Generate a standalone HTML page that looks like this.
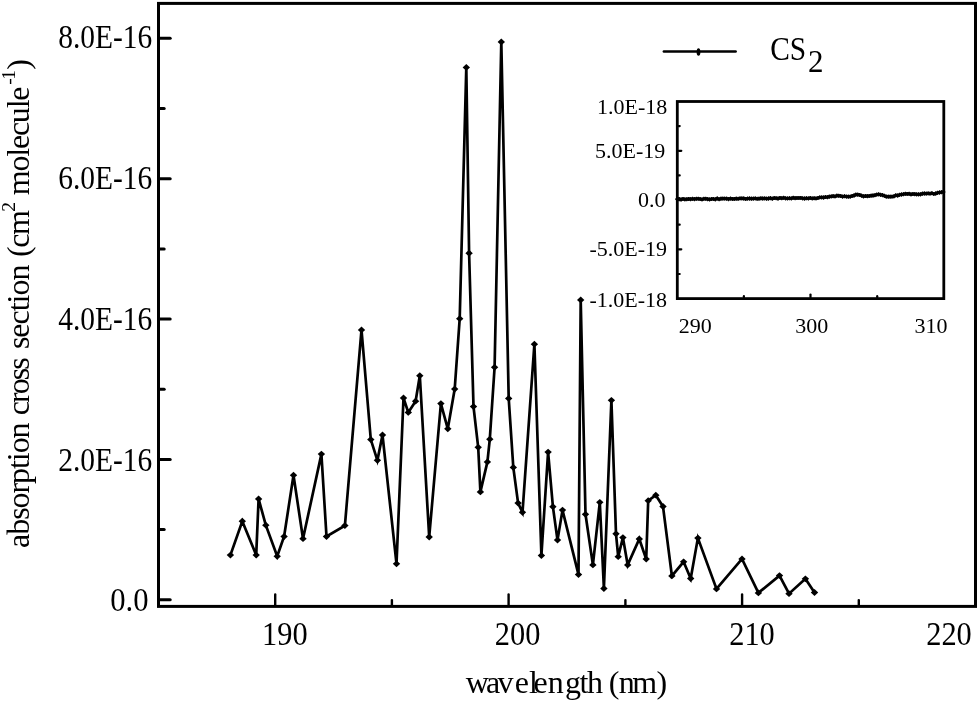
<!DOCTYPE html>
<html lang="en">
<head>
<meta charset="utf-8">
<title>CS2 absorption cross section</title>
<style>
html,body{margin:0;padding:0;background:#fff;}
body{width:979px;height:703px;overflow:hidden;}
svg{display:block;}
text{font-family:"Liberation Serif","Times New Roman",Times,serif;fill:#000;}
</style>
</head>
<body>
<svg width="979" height="703" viewBox="0 0 979 703">
<rect x="0" y="0" width="979" height="703" fill="#fff"/>
<rect x="158.5" y="3.4" width="817.0" height="603.0" fill="none" stroke="#000" stroke-width="3"/>
<g stroke="#000" stroke-width="3" stroke-linecap="round">
<line x1="160.0" y1="599.8" x2="170.2" y2="599.8"/>
<line x1="160.0" y1="529.6" x2="164.2" y2="529.6"/>
<line x1="160.0" y1="459.4" x2="170.2" y2="459.4"/>
<line x1="160.0" y1="389.2" x2="164.2" y2="389.2"/>
<line x1="160.0" y1="319.0" x2="170.2" y2="319.0"/>
<line x1="160.0" y1="248.9" x2="164.2" y2="248.9"/>
<line x1="160.0" y1="178.7" x2="170.2" y2="178.7"/>
<line x1="160.0" y1="108.5" x2="164.2" y2="108.5"/>
<line x1="160.0" y1="38.3" x2="170.2" y2="38.3"/>
</g>
<g stroke="#000" stroke-width="2.4" stroke-linecap="round">
<line x1="275.2" y1="604.9" x2="275.2" y2="594.5"/>
<line x1="391.9" y1="604.9" x2="391.9" y2="600.1"/>
<line x1="508.6" y1="604.9" x2="508.6" y2="594.5"/>
<line x1="625.4" y1="604.9" x2="625.4" y2="600.1"/>
<line x1="742.1" y1="604.9" x2="742.1" y2="594.5"/>
<line x1="858.8" y1="604.9" x2="858.8" y2="600.1"/>
</g>
<text x="58.3" y="47.9" font-size="32.7" text-anchor="start" textLength="94" lengthAdjust="spacingAndGlyphs">8.0E-16</text>
<text x="58.3" y="188.5" font-size="32.7" text-anchor="start" textLength="94" lengthAdjust="spacingAndGlyphs">6.0E-16</text>
<text x="58.3" y="329.5" font-size="32.7" text-anchor="start" textLength="94" lengthAdjust="spacingAndGlyphs">4.0E-16</text>
<text x="58.3" y="470.5" font-size="32.7" text-anchor="start" textLength="94" lengthAdjust="spacingAndGlyphs">2.0E-16</text>
<text x="110.3" y="610.9" font-size="32.7" text-anchor="start" textLength="38.3" lengthAdjust="spacingAndGlyphs">0.0</text>
<text x="262.0" y="644.5" font-size="32.7" text-anchor="start" textLength="45.6" lengthAdjust="spacingAndGlyphs">190</text>
<text x="494.8" y="644.5" font-size="32.7" text-anchor="start" textLength="45.6" lengthAdjust="spacingAndGlyphs">200</text>
<text x="729.2" y="644.5" font-size="32.7" text-anchor="start" textLength="45.6" lengthAdjust="spacingAndGlyphs">210</text>
<text x="926.2" y="644.5" font-size="32.7" text-anchor="start" textLength="45.6" lengthAdjust="spacingAndGlyphs">220</text>
<text x="465.8 486.0 497.6 514.8 529.1 533.6 547.8 565.1 579.6 586.9 602.9 608.8 618.7 632.3 656.6" y="693.4" font-size="32">wavelength (nm)</text>
<g transform="translate(29.0,0) rotate(-90)">
<text x="-547.9" y="0" font-size="32" text-anchor="start" textLength="125.5" lengthAdjust="spacing">absorption</text>
<text x="-415.2" y="0" font-size="32" text-anchor="start" textLength="57.9" lengthAdjust="spacing">cross</text>
<text x="-349.1" y="0" font-size="32" text-anchor="start" textLength="84.5" lengthAdjust="spacing">section</text>
<text x="-257.0" y="0" font-size="32" text-anchor="start" textLength="46.8" lengthAdjust="spacing">(cm</text>
<text x="-211.7" y="-13.6" font-size="19.5" text-anchor="start" textLength="10.5" lengthAdjust="spacing">2</text>
<text x="-195.2" y="0" font-size="32" text-anchor="start" textLength="108.7" lengthAdjust="spacing">molecule</text>
<text x="-84.8" y="-13.6" font-size="19.5" text-anchor="start" textLength="14.9" lengthAdjust="spacing">-1</text>
<text x="-69.8" y="0" font-size="32" text-anchor="start" textLength="10.0" lengthAdjust="spacing">)</text>
</g>
<path d="M230.4 555.1 L242.3 521.2 L256.2 555.1 L258.6 498.9 L265.8 525.2 L277.2 556.3 L284.1 536.5 L293.5 475.2 L303.0 538.7 L321.4 454.1 L326.5 536.5 L344.9 525.6 L361.5 329.9 L370.8 439.6 L377.4 460.3 L382.5 435.0 L396.5 563.8 L403.5 398.0 L408.3 412.4 L415.6 401.2 L419.8 375.7 L429.2 537.0 L440.9 403.6 L447.8 428.8 L454.7 389.1 L459.7 318.7 L466.3 67.4 L469.1 253.2 L473.5 406.6 L478.2 447.3 L480.4 491.9 L487.4 461.9 L489.8 439.2 L494.6 367.3 L501.3 41.9 L508.7 398.4 L513.3 467.4 L518.1 503.1 L522.5 512.3 L534.4 344.2 L541.4 555.5 L548.1 452.1 L552.9 506.7 L557.5 540.1 L562.5 510.1 L578.5 574.6 L580.7 299.9 L585.5 514.3 L592.9 564.9 L599.8 502.3 L603.9 588.5 L611.4 400.3 L616.0 533.8 L618.2 556.7 L622.9 537.6 L627.7 564.9 L639.3 539.0 L646.2 559.1 L648.2 500.7 L655.8 495.2 L663.0 506.5 L671.9 575.9 L683.6 561.8 L690.7 578.5 L697.9 538.1 L716.5 588.9 L742.0 558.9 L758.4 592.9 L779.5 575.6 L789.0 593.7 L805.4 578.8 L814.5 592.5" fill="none" stroke="#000" stroke-width="2.7" stroke-linejoin="miter" stroke-linecap="butt"/>
<g fill="#000">
<path d="M226.7 555.1L230.4 551.7L234.1 555.1L230.4 558.5Z"/>
<path d="M238.6 521.2L242.3 517.8L246.0 521.2L242.3 524.6Z"/>
<path d="M252.5 555.1L256.2 551.7L259.9 555.1L256.2 558.5Z"/>
<path d="M254.9 498.9L258.6 495.5L262.3 498.9L258.6 502.3Z"/>
<path d="M262.1 525.2L265.8 521.8L269.5 525.2L265.8 528.6Z"/>
<path d="M273.5 556.3L277.2 552.9L280.9 556.3L277.2 559.7Z"/>
<path d="M280.4 536.5L284.1 533.1L287.8 536.5L284.1 539.9Z"/>
<path d="M289.8 475.2L293.5 471.8L297.2 475.2L293.5 478.6Z"/>
<path d="M299.3 538.7L303.0 535.3L306.7 538.7L303.0 542.1Z"/>
<path d="M317.7 454.1L321.4 450.7L325.1 454.1L321.4 457.5Z"/>
<path d="M322.8 536.5L326.5 533.1L330.2 536.5L326.5 539.9Z"/>
<path d="M341.2 525.6L344.9 522.2L348.6 525.6L344.9 529.0Z"/>
<path d="M357.8 329.9L361.5 326.5L365.2 329.9L361.5 333.3Z"/>
<path d="M367.1 439.6L370.8 436.2L374.5 439.6L370.8 443.0Z"/>
<path d="M373.7 460.3L377.4 456.9L381.1 460.3L377.4 463.7Z"/>
<path d="M378.8 435.0L382.5 431.6L386.2 435.0L382.5 438.4Z"/>
<path d="M392.8 563.8L396.5 560.4L400.2 563.8L396.5 567.2Z"/>
<path d="M399.8 398.0L403.5 394.6L407.2 398.0L403.5 401.4Z"/>
<path d="M404.6 412.4L408.3 409.0L412.0 412.4L408.3 415.8Z"/>
<path d="M411.9 401.2L415.6 397.8L419.3 401.2L415.6 404.6Z"/>
<path d="M416.1 375.7L419.8 372.3L423.5 375.7L419.8 379.1Z"/>
<path d="M425.5 537.0L429.2 533.6L432.9 537.0L429.2 540.4Z"/>
<path d="M437.2 403.6L440.9 400.2L444.6 403.6L440.9 407.0Z"/>
<path d="M444.1 428.8L447.8 425.4L451.5 428.8L447.8 432.2Z"/>
<path d="M451.0 389.1L454.7 385.7L458.4 389.1L454.7 392.5Z"/>
<path d="M456.0 318.7L459.7 315.3L463.4 318.7L459.7 322.1Z"/>
<path d="M462.6 67.4L466.3 64.0L470.0 67.4L466.3 70.8Z"/>
<path d="M465.4 253.2L469.1 249.8L472.8 253.2L469.1 256.6Z"/>
<path d="M469.8 406.6L473.5 403.2L477.2 406.6L473.5 410.0Z"/>
<path d="M474.5 447.3L478.2 443.9L481.9 447.3L478.2 450.7Z"/>
<path d="M476.7 491.9L480.4 488.5L484.1 491.9L480.4 495.3Z"/>
<path d="M483.7 461.9L487.4 458.5L491.1 461.9L487.4 465.3Z"/>
<path d="M486.1 439.2L489.8 435.8L493.5 439.2L489.8 442.6Z"/>
<path d="M490.9 367.3L494.6 363.9L498.3 367.3L494.6 370.7Z"/>
<path d="M497.6 41.9L501.3 38.5L505.0 41.9L501.3 45.3Z"/>
<path d="M505.0 398.4L508.7 395.0L512.4 398.4L508.7 401.8Z"/>
<path d="M509.6 467.4L513.3 464.0L517.0 467.4L513.3 470.8Z"/>
<path d="M514.4 503.1L518.1 499.7L521.8 503.1L518.1 506.5Z"/>
<path d="M518.8 512.3L522.5 508.9L526.2 512.3L522.5 515.7Z"/>
<path d="M530.7 344.2L534.4 340.8L538.1 344.2L534.4 347.6Z"/>
<path d="M537.7 555.5L541.4 552.1L545.1 555.5L541.4 558.9Z"/>
<path d="M544.4 452.1L548.1 448.7L551.8 452.1L548.1 455.5Z"/>
<path d="M549.2 506.7L552.9 503.3L556.6 506.7L552.9 510.1Z"/>
<path d="M553.8 540.1L557.5 536.7L561.2 540.1L557.5 543.5Z"/>
<path d="M558.8 510.1L562.5 506.7L566.2 510.1L562.5 513.5Z"/>
<path d="M574.8 574.6L578.5 571.2L582.2 574.6L578.5 578.0Z"/>
<path d="M577.0 299.9L580.7 296.5L584.4 299.9L580.7 303.3Z"/>
<path d="M581.8 514.3L585.5 510.9L589.2 514.3L585.5 517.7Z"/>
<path d="M589.2 564.9L592.9 561.5L596.6 564.9L592.9 568.3Z"/>
<path d="M596.1 502.3L599.8 498.9L603.5 502.3L599.8 505.7Z"/>
<path d="M600.2 588.5L603.9 585.1L607.6 588.5L603.9 591.9Z"/>
<path d="M607.7 400.3L611.4 396.9L615.1 400.3L611.4 403.7Z"/>
<path d="M612.3 533.8L616.0 530.4L619.7 533.8L616.0 537.2Z"/>
<path d="M614.5 556.7L618.2 553.3L621.9 556.7L618.2 560.1Z"/>
<path d="M619.2 537.6L622.9 534.2L626.6 537.6L622.9 541.0Z"/>
<path d="M624.0 564.9L627.7 561.5L631.4 564.9L627.7 568.3Z"/>
<path d="M635.6 539.0L639.3 535.6L643.0 539.0L639.3 542.4Z"/>
<path d="M642.5 559.1L646.2 555.7L649.9 559.1L646.2 562.5Z"/>
<path d="M644.5 500.7L648.2 497.3L651.9 500.7L648.2 504.1Z"/>
<path d="M652.1 495.2L655.8 491.8L659.5 495.2L655.8 498.6Z"/>
<path d="M659.3 506.5L663.0 503.1L666.7 506.5L663.0 509.9Z"/>
<path d="M668.2 575.9L671.9 572.5L675.6 575.9L671.9 579.3Z"/>
<path d="M679.9 561.8L683.6 558.4L687.3 561.8L683.6 565.2Z"/>
<path d="M687.0 578.5L690.7 575.1L694.4 578.5L690.7 581.9Z"/>
<path d="M694.2 538.1L697.9 534.7L701.6 538.1L697.9 541.5Z"/>
<path d="M712.8 588.9L716.5 585.5L720.2 588.9L716.5 592.3Z"/>
<path d="M738.3 558.9L742.0 555.5L745.7 558.9L742.0 562.3Z"/>
<path d="M754.7 592.9L758.4 589.5L762.1 592.9L758.4 596.3Z"/>
<path d="M775.8 575.6L779.5 572.2L783.2 575.6L779.5 579.0Z"/>
<path d="M785.3 593.7L789.0 590.3L792.7 593.7L789.0 597.1Z"/>
<path d="M801.7 578.8L805.4 575.4L809.1 578.8L805.4 582.2Z"/>
<path d="M810.8 592.5L814.5 589.1L818.2 592.5L814.5 595.9Z"/>
</g>
<line x1="663.9" y1="51.5" x2="735.6" y2="51.5" stroke="#000" stroke-width="2.6" stroke-linecap="round"/>
<ellipse cx="698.5" cy="52" rx="1.9" ry="3.8" fill="#000"/>
<text x="770.2" y="59.5" font-size="33.3" text-anchor="start" textLength="36" lengthAdjust="spacingAndGlyphs">CS</text>
<text x="808" y="72" font-size="32" text-anchor="start" textLength="15.5" lengthAdjust="spacingAndGlyphs">2</text>
<rect x="677.3" y="101.5" width="266.5" height="197.1" fill="none" stroke="#000" stroke-width="2.8"/>
<g stroke="#000" stroke-width="2.2" stroke-linecap="round">
<line x1="678.6999999999999" y1="126.1" x2="679.6999999999999" y2="126.1"/>
<line x1="678.6999999999999" y1="150.8" x2="681.3" y2="150.8"/>
<line x1="678.6999999999999" y1="175.4" x2="679.6999999999999" y2="175.4"/>
<line x1="678.6999999999999" y1="200.1" x2="681.3" y2="200.1"/>
<line x1="678.6999999999999" y1="224.7" x2="679.6999999999999" y2="224.7"/>
<line x1="678.6999999999999" y1="249.3" x2="681.3" y2="249.3"/>
<line x1="678.6999999999999" y1="274.0" x2="679.6999999999999" y2="274.0"/>
<line x1="743.9" y1="297.20000000000005" x2="743.9" y2="296.20000000000005"/>
<line x1="810.5" y1="297.20000000000005" x2="810.5" y2="294.6"/>
<line x1="877.2" y1="297.20000000000005" x2="877.2" y2="296.20000000000005"/>
</g>
<text x="597.0" y="113.5" font-size="22" text-anchor="start">1.0E-18</text>
<text x="595" y="157.6" font-size="22" text-anchor="start">5.0E-19</text>
<text x="638" y="207.3" font-size="22" text-anchor="start">0.0</text>
<text x="589.4" y="256.2" font-size="22" text-anchor="start">-5.0E-19</text>
<text x="589.4" y="306.9" font-size="22" text-anchor="start">-1.0E-18</text>
<text x="678.7" y="332.6" font-size="22" text-anchor="start">290</text>
<text x="795.3" y="332.6" font-size="22" text-anchor="start">300</text>
<text x="914.5" y="332.6" font-size="22" text-anchor="start">310</text>
<defs><marker id="dm" markerUnits="userSpaceOnUse" markerWidth="4.8" markerHeight="4.8" refX="2.4" refY="2.4"><path d="M0 2.4L2.4 0L4.8 2.4L2.4 4.8Z" fill="#000"/></marker></defs>
<path d="M677.3 199.1 L679.2 198.9 L681.1 199.4 L683.0 198.9 L684.9 199.3 L686.8 199.2 L688.7 198.9 L690.6 199.2 L692.5 198.8 L694.4 199.1 L696.3 198.8 L698.2 198.8 L700.1 199.0 L702.0 199.4 L703.9 198.8 L705.8 198.8 L707.7 199.1 L709.6 199.4 L711.5 199.0 L713.4 198.9 L715.3 199.3 L717.2 198.5 L719.1 199.2 L721.0 198.7 L722.9 198.6 L724.8 198.6 L726.7 198.7 L728.6 199.1 L730.5 198.6 L732.4 198.9 L734.3 198.9 L736.2 198.7 L738.1 198.8 L740.0 198.4 L741.9 198.4 L743.8 198.5 L745.7 198.9 L747.6 198.6 L749.5 198.5 L751.4 198.7 L753.3 198.6 L755.2 198.4 L757.1 198.8 L759.0 198.7 L760.9 198.3 L762.8 198.5 L764.7 198.4 L766.6 198.7 L768.5 198.5 L770.4 198.1 L772.3 198.7 L774.2 198.0 L776.1 198.2 L778.0 198.5 L779.9 197.9 L781.8 198.2 L783.7 197.8 L785.6 198.3 L787.5 198.4 L789.4 198.2 L791.3 198.4 L793.2 197.8 L795.1 198.1 L797.0 198.0 L798.9 198.0 L800.8 197.9 L802.7 198.3 L804.6 198.5 L806.5 198.2 L808.4 198.4 L810.3 197.9 L812.2 198.4 L814.1 198.2 L816.0 198.4 L817.9 198.0 L819.8 197.4 L821.7 197.4 L823.6 197.5 L825.5 197.0 L827.4 197.2 L829.3 196.7 L831.2 196.4 L833.1 196.1 L835.0 196.4 L836.9 195.7 L838.8 195.8 L840.7 196.0 L842.6 196.6 L844.5 196.2 L846.4 196.6 L848.3 196.7 L850.2 196.6 L852.1 196.0 L854.0 195.5 L855.9 194.6 L857.8 194.7 L859.7 194.9 L861.6 195.7 L863.5 196.3 L865.4 196.0 L867.3 196.1 L869.2 196.0 L871.1 195.7 L873.0 195.5 L874.9 195.2 L876.8 194.6 L878.7 194.3 L880.6 194.8 L882.5 195.1 L884.4 195.8 L886.3 196.6 L888.2 196.7 L890.1 196.7 L892.0 196.6 L893.9 196.3 L895.8 195.3 L897.7 195.5 L899.6 194.8 L901.5 194.5 L903.4 194.2 L905.3 193.8 L907.2 193.9 L909.1 193.8 L911.0 194.3 L912.9 194.0 L914.8 194.1 L916.7 194.3 L918.6 194.3 L920.5 194.3 L922.4 193.7 L924.3 193.5 L926.2 193.6 L928.1 193.4 L930.0 193.6 L931.9 193.2 L933.8 193.9 L935.7 193.5 L937.6 192.8 L939.5 192.5 L941.4 192.2 L943.3 192.0" fill="none" stroke="#000" stroke-width="2.6" stroke-linejoin="round" stroke-linecap="round" marker-start="url(#dm)" marker-mid="url(#dm)" marker-end="url(#dm)"/>
</svg>
</body>
</html>
